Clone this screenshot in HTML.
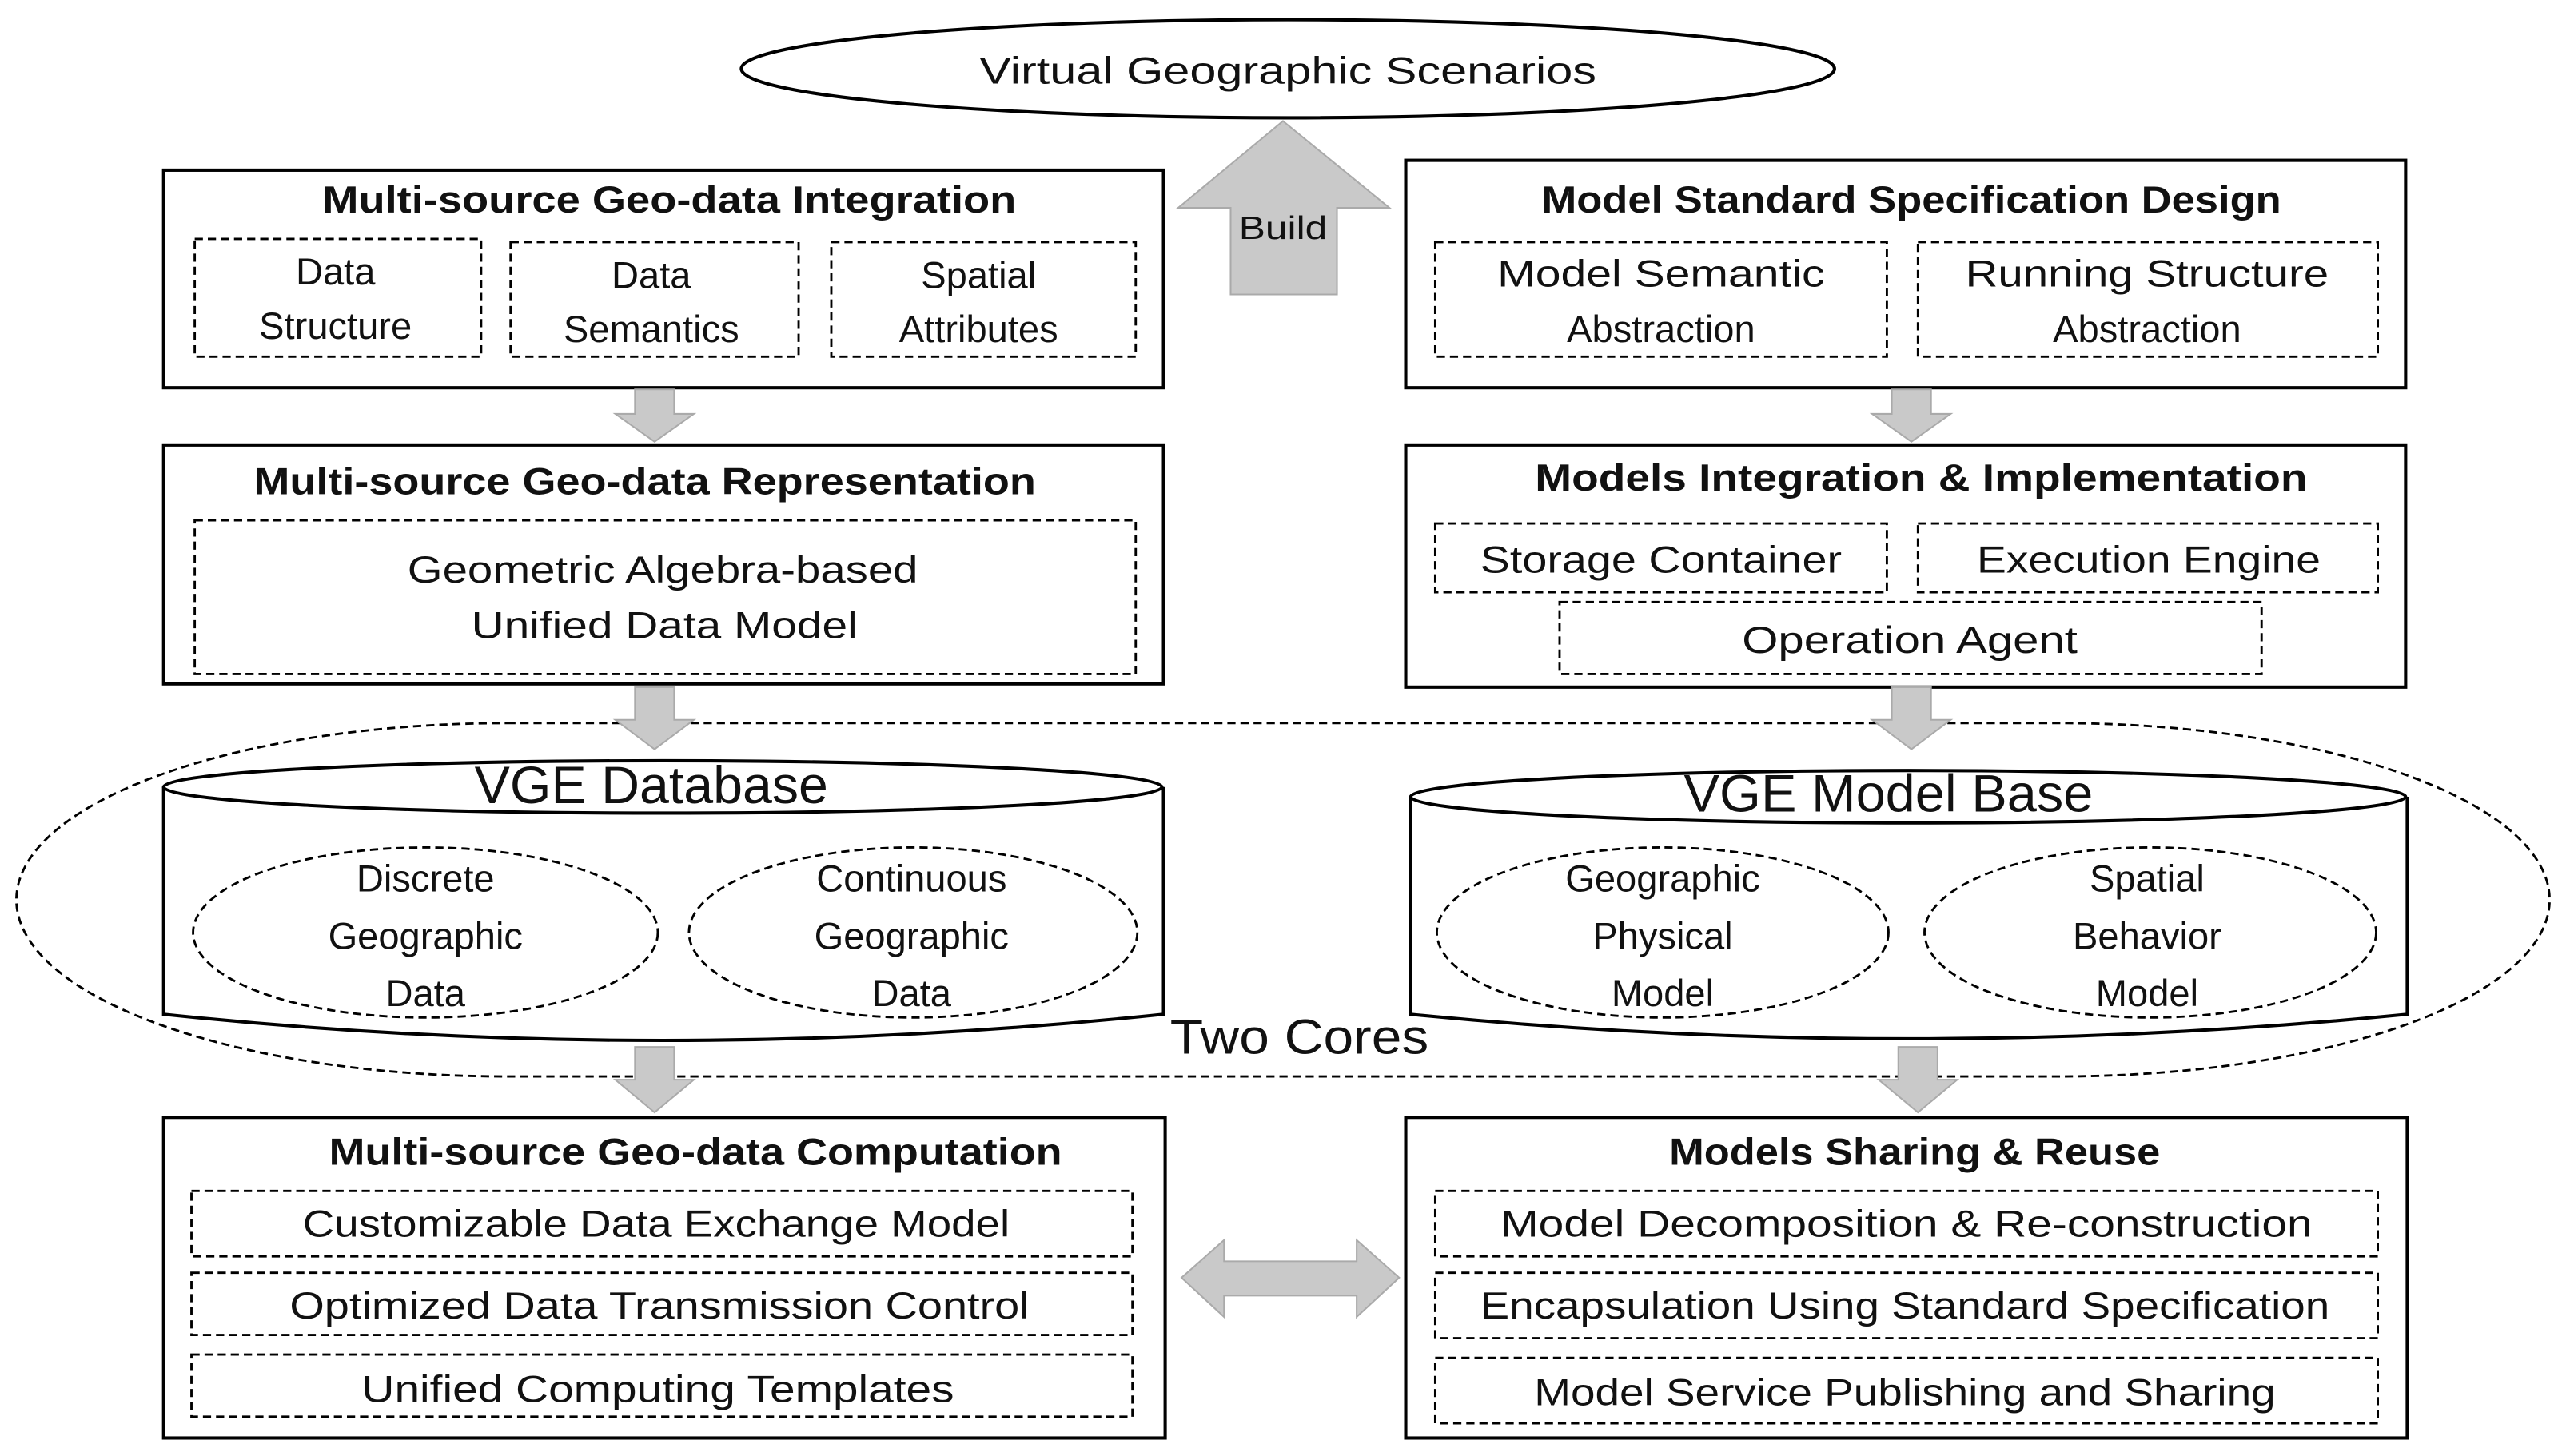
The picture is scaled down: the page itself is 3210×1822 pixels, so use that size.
<!DOCTYPE html>
<html><head><meta charset="utf-8"><style>
html,body{margin:0;padding:0;background:#fff;}
svg{display:block}
text{font-family:"Liberation Sans",sans-serif;fill:#111;}
</style></head><body>
<svg width="3210" height="1822" viewBox="0 0 1568 890" xmlns="http://www.w3.org/2000/svg">
<defs>
<style>
.b{fill:#fff;stroke:#000;stroke-width:2}
.d{fill:none;stroke:#000;stroke-width:1.4;stroke-dasharray:5,3}
.a{fill:#c9c9c9;stroke:#aaa;stroke-width:1}
.t{font-size:23px;text-anchor:middle}
.h{font-size:23px;font-weight:bold;text-anchor:middle}
</style>
</defs>
<!-- big dashed outline -->
<rect x="10" y="442" width="1548" height="216" rx="300" ry="108" class="d"/>

<!-- top ellipse -->
<ellipse cx="787" cy="42" rx="334" ry="30" class="b"/>
<text x="787" y="51" class="t" font-size="25" textLength="377" lengthAdjust="spacingAndGlyphs">Virtual Geographic Scenarios</text>

<!-- Build arrow -->
<polygon class="a" points="784,74 849,127 817,127 817,180 752,180 752,127 720,127"/>
<text x="784" y="146" font-size="20" text-anchor="middle" textLength="54" lengthAdjust="spacingAndGlyphs">Build</text>

<!-- Left top box -->
<rect x="100" y="104" width="611" height="133" class="b"/>
<text x="409" y="130" class="h" textLength="424" lengthAdjust="spacingAndGlyphs">Multi-source Geo-data Integration</text>
<rect x="119" y="146" width="175" height="72" class="d"/>
<rect x="312" y="148" width="176" height="70" class="d"/>
<rect x="508" y="148" width="186" height="70" class="d"/>
<text x="205" y="174" class="t">Data</text><text x="205" y="207" class="t">Structure</text>
<text x="398" y="176" class="t">Data</text><text x="398" y="209" class="t">Semantics</text>
<text x="598" y="176" class="t">Spatial</text><text x="598" y="209" class="t">Attributes</text>

<!-- Right top box -->
<rect x="859" y="98" width="611" height="139" class="b"/>
<text x="1168" y="130" class="h" textLength="452" lengthAdjust="spacingAndGlyphs">Model Standard Specification Design</text>
<rect x="877" y="148" width="276" height="70" class="d"/>
<rect x="1172" y="148" width="281" height="70" class="d"/>
<text x="1015" y="175" class="t" textLength="200" lengthAdjust="spacingAndGlyphs">Model Semantic</text>
<text x="1015" y="209" class="t">Abstraction</text>
<text x="1312" y="175" class="t" textLength="222" lengthAdjust="spacingAndGlyphs">Running Structure</text>
<text x="1312" y="209" class="t">Abstraction</text>

<!-- down arrows row 1 -->
<polygon class="a" points="388,238 412,238 412,253 424,253 400,270 376,253 388,253"/>
<polygon class="a" points="1156,238 1180,238 1180,253 1192,253 1168,270 1144,253 1156,253"/>

<!-- Left box 2 -->
<rect x="100" y="272" width="611" height="146" class="b"/>
<text x="394" y="302" class="h" textLength="478" lengthAdjust="spacingAndGlyphs">Multi-source Geo-data Representation</text>
<rect x="119" y="318" width="575" height="94" class="d"/>
<text x="405" y="356" class="t" textLength="312" lengthAdjust="spacingAndGlyphs">Geometric Algebra-based</text>
<text x="406" y="390" class="t" textLength="236" lengthAdjust="spacingAndGlyphs">Unified Data Model</text>

<!-- Right box 2 -->
<rect x="859" y="272" width="611" height="148" class="b"/>
<text x="1174" y="300" class="h" textLength="472" lengthAdjust="spacingAndGlyphs">Models Integration &amp; Implementation</text>
<rect x="877" y="320" width="276" height="42" class="d"/>
<rect x="1172" y="320" width="281" height="42" class="d"/>
<rect x="953" y="368" width="429" height="44" class="d"/>
<text x="1015" y="350" class="t" textLength="221" lengthAdjust="spacingAndGlyphs">Storage Container</text>
<text x="1313" y="350" class="t" textLength="210" lengthAdjust="spacingAndGlyphs">Execution Engine</text>
<text x="1167" y="399" class="t" textLength="205" lengthAdjust="spacingAndGlyphs">Operation Agent</text>

<!-- down arrows row 2 -->
<polygon class="a" points="388,420 412,420 412,440 424,440 400,458 376,440 388,440"/>
<polygon class="a" points="1156,420 1180,420 1180,440 1192,440 1168,458 1144,440 1156,440"/>

<!-- Left cylinder -->
<path d="M100,481 L100,620 Q405,652 711,620 L711,481" class="b"/>
<ellipse cx="405" cy="481" rx="305" ry="16" class="b"/>
<text x="398" y="491" font-size="32" text-anchor="middle" textLength="216" lengthAdjust="spacingAndGlyphs">VGE Database</text>
<ellipse cx="260" cy="570" rx="142" ry="52" class="d"/>
<ellipse cx="558" cy="570" rx="137" ry="52" class="d"/>
<text x="260" y="545" class="t">Discrete</text><text x="260" y="580" class="t">Geographic</text><text x="260" y="615" class="t">Data</text>
<text x="557" y="545" class="t">Continuous</text><text x="557" y="580" class="t">Geographic</text><text x="557" y="615" class="t">Data</text>

<!-- Right cylinder -->
<path d="M862,487 L862,620 Q1166,650 1471,620 L1471,487" class="b"/>
<ellipse cx="1166" cy="487" rx="304" ry="16" class="b"/>
<text x="1154" y="496" font-size="32" text-anchor="middle" textLength="250" lengthAdjust="spacingAndGlyphs">VGE Model Base</text>
<ellipse cx="1016" cy="570" rx="138" ry="52" class="d"/>
<ellipse cx="1314" cy="570" rx="138" ry="52" class="d"/>
<text x="1016" y="545" class="t">Geographic</text><text x="1016" y="580" class="t">Physical</text><text x="1016" y="615" class="t">Model</text>
<text x="1312" y="545" class="t">Spatial</text><text x="1312" y="580" class="t">Behavior</text><text x="1312" y="615" class="t">Model</text>

<text x="794" y="644" font-size="30" text-anchor="middle" textLength="158" lengthAdjust="spacingAndGlyphs">Two Cores</text>

<!-- down arrows row 3 -->
<polygon class="a" points="388,640 412,640 412,660 424,660 400,680 376,660 388,660"/>
<polygon class="a" points="1160,640 1184,640 1184,660 1196,660 1172,680 1148,660 1160,660"/>

<!-- Left bottom box -->
<rect x="100" y="683" width="612" height="196" class="b"/>
<text x="425" y="712" class="h" textLength="448" lengthAdjust="spacingAndGlyphs">Multi-source Geo-data Computation</text>
<rect x="117" y="728" width="575" height="40" class="d"/>
<rect x="117" y="778" width="575" height="38" class="d"/>
<rect x="117" y="828" width="575" height="38" class="d"/>
<text x="401" y="756" class="t" textLength="432" lengthAdjust="spacingAndGlyphs">Customizable Data Exchange Model</text>
<text x="403" y="806" class="t" textLength="452" lengthAdjust="spacingAndGlyphs">Optimized Data Transmission Control</text>
<text x="402" y="857" class="t" textLength="362" lengthAdjust="spacingAndGlyphs">Unified Computing Templates</text>

<!-- Right bottom box -->
<rect x="859" y="683" width="612" height="196" class="b"/>
<text x="1170" y="712" class="h" textLength="300" lengthAdjust="spacingAndGlyphs">Models Sharing &amp; Reuse</text>
<rect x="877" y="728" width="576" height="40" class="d"/>
<rect x="877" y="778" width="576" height="40" class="d"/>
<rect x="877" y="830" width="576" height="40" class="d"/>
<text x="1165" y="756" class="t" textLength="496" lengthAdjust="spacingAndGlyphs">Model Decomposition &amp; Re-construction</text>
<text x="1164" y="806" class="t" textLength="519" lengthAdjust="spacingAndGlyphs">Encapsulation Using Standard Specification</text>
<text x="1164" y="859" class="t" textLength="453" lengthAdjust="spacingAndGlyphs">Model Service Publishing and Sharing</text>

<!-- double arrow -->
<polygon class="a" points="722,781 748,758 748,771 829,771 829,758 855,781 829,805 829,792 748,792 748,805"/>
</svg>
</body></html>
